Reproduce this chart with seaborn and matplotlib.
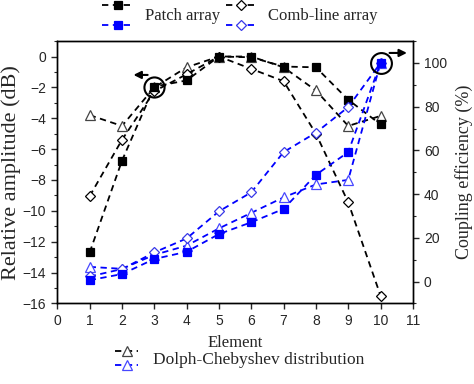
import matplotlib
matplotlib.use("Agg")
import matplotlib.pyplot as plt
import seaborn as sns
from matplotlib.legend_handler import HandlerBase
from matplotlib.lines import Line2D
from matplotlib.ticker import MultipleLocator
from matplotlib.transforms import offset_copy

elements = [1, 2, 3, 4, 5, 6, 7, 8, 9, 10]

# relative amplitude (dB) - left axis
amp_patch = [-12.7, -6.75, -1.95, -1.55, 0.0, -0.05, -0.65, -0.7, -2.8, -4.4]
amp_comb = [-9.05, -5.4, -2.25, -1.15, 0.0, -0.8, -1.6, -5.0, -9.45, -15.5]
amp_dolph = [-3.8, -4.5, -2.0, -0.7, 0.0, 0.0, -0.7, -2.2, -4.5, -3.85]

# coupling efficiency (%) - right axis
eff_patch = [0.6, 3.4, 10.3, 13.6, 21.7, 27.1, 33.2, 48.8, 59.2, 100.0]
eff_comb = [2.3, 5.7, 13.3, 19.7, 32.1, 40.8, 59.2, 68.1, 79.8, 100.0]
eff_dolph = [6.7, 5.8, 12.2, 16.4, 24.3, 31.4, 38.5, 44.4, 46.5, 100.0]

xticks = list(range(0, 12))
amp_ticks = list(range(-16, 1, 2))
eff_ticks = list(range(0, 101, 20))

sns.set_style("ticks")
plt.rcParams["font.family"] = ["Liberation Sans", "DejaVu Sans"]
plt.rcParams["lines.dashed_pattern"] = [3.5, 2.5]

BLUE = "#0000ff"
serif = ["Liberation Serif", "DejaVu Serif"]

fig = plt.figure(figsize=(4.74, 3.84), dpi=100)
fig.subplots_adjust(left=0.121, right=0.871, bottom=0.21, top=0.893)
ax = fig.add_subplot(111)
ax2 = ax.twinx()


def draw(axis, y, color, marker, filled, ms, edge=None):
    sns.lineplot(x=elements, y=y, ax=axis, color=color, marker=marker,
                 markersize=ms, linestyle="--", linewidth=1.3,
                 markerfacecolor=color if filled else "white",
                 markeredgecolor=edge or color, markeredgewidth=0.9)
    return axis.get_lines()[-1]


h_amp_dolph = draw(ax, amp_dolph, "black", "^", False, 7, "#444444")
h_amp_comb = draw(ax, amp_comb, "black", "D", False, 5.5)
h_amp_patch = draw(ax, amp_patch, "black", "s", True, 5.5)

h_eff_dolph = draw(ax2, eff_dolph, BLUE, "^", False, 7, "#4848ff")
h_eff_comb = draw(ax2, eff_comb, BLUE, "D", False, 5.5, "#3838e8")
h_eff_patch = draw(ax2, eff_patch, BLUE, "s", True, 5.5)

ax.set_xlim(0, 11)
ax.set_ylim(-16, 1)
ax2.set_ylim(-10, 110)
ax.set_xticks(xticks)
ax.set_yticks(amp_ticks)
ax2.set_yticks(eff_ticks)
ax.yaxis.set_minor_locator(MultipleLocator(1))
ax2.yaxis.set_minor_locator(MultipleLocator(10))

ax.tick_params(axis="both", which="major", direction="out", length=4.5,
               width=1, labelsize=10, top=False, right=False)
ax.tick_params(axis="y", which="minor", direction="out", length=2.5, width=0.8)
ax2.tick_params(axis="y", which="major", direction="out", length=4.5,
                width=1, labelsize=10)
ax2.tick_params(axis="y", which="minor", direction="out", length=2.5, width=0.8)
for a in (ax, ax2):
    for s in a.spines.values():
        s.set_visible(True)
        s.set_linewidth(1.0)
        s.set_color("black")

ax.set_xlabel("Element", fontsize=12, family=serif, labelpad=5)
ax.set_ylabel("Relative amplitude (dB)", fontsize=16, family=serif, labelpad=1)
ax2.set_ylabel("Coupling efficiency (%)", fontsize=13, family=serif, labelpad=6)

# circled reference points with arrows pointing at their axis
cl = (elements[2], amp_patch[2])
ax.plot([cl[0]], [cl[1]], marker="o", ms=14.5, mfc="none", mec="black", mew=1.5)
ax.annotate("", xy=cl, xytext=cl,
            xycoords=offset_copy(ax.transData, fig=fig, x=-15, y=8.4, units="points"),
            textcoords=offset_copy(ax.transData, fig=fig, x=-4.8, y=8.4, units="points"),
            arrowprops=dict(arrowstyle="-|>", color="black", lw=1.5,
                            mutation_scale=11, shrinkA=0, shrinkB=0))

cr = (elements[9], eff_comb[9])
ax2.plot([cr[0]], [cr[1]], marker="o", ms=15, mfc="none", mec="black", mew=1.5)
ax2.annotate("", xy=cr, xytext=cr,
             xycoords=offset_copy(ax2.transData, fig=fig, x=19, y=7.2, units="points"),
             textcoords=offset_copy(ax2.transData, fig=fig, x=6.5, y=7.2, units="points"),
             arrowprops=dict(arrowstyle="-|>", color="black", lw=1.5,
                             mutation_scale=11, shrinkA=0, shrinkB=0))


class StackedHandler(HandlerBase):
    """Black handle on top, blue handle underneath."""

    def __init__(self, gap):
        super().__init__()
        self.gap = gap

    def create_artists(self, legend, orig_handle, xdescent, ydescent,
                       width, height, fontsize, trans):
        artists = []
        mid = height / 2 - ydescent
        for i, h in enumerate(orig_handle):
            y = mid + self.gap / 2 - i * self.gap
            line = Line2D([-xdescent, -xdescent + width], [y, y])
            self.update_prop(line, h, legend)
            line.set_marker("None")
            mk = Line2D([-xdescent + width / 2], [y])
            self.update_prop(mk, h, legend)
            mk.set_linestyle("None")
            line.set_transform(trans)
            mk.set_transform(trans)
            artists += [line, mk]
        return artists


fig.legend(handles=[(h_amp_patch, h_eff_patch), (h_amp_comb, h_eff_comb)],
           labels=["Patch array", "Comb-line array"], ncol=2, loc="center",
           bbox_to_anchor=(240 / 474, 1 - 16.5 / 384), frameon=False,
           handler_map={tuple: StackedHandler(14.4)}, handlelength=1.85,
           handletextpad=0.7, columnspacing=0.35,
           prop={"family": serif, "size": 12})

fig.legend(handles=[(h_amp_dolph, h_eff_dolph)],
           labels=["Dolph-Chebyshev distribution"], loc="center",
           bbox_to_anchor=(240 / 474, 1 - 360 / 384), frameon=False,
           handler_map={tuple: StackedHandler(9.4)}, handlelength=1.3,
           handletextpad=0.9, prop={"family": serif, "size": 12.5})

fig.savefig("out.png", dpi=100)
